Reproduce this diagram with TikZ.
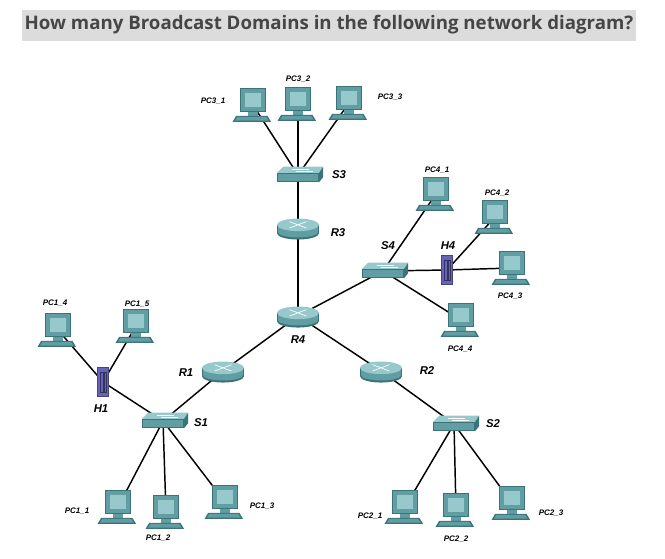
\documentclass[tikz,border=0pt]{standalone}
\usepackage{fontspec}
\setmainfont{Liberation Sans}
\newfontfamily\titlefont{Open Sans}
\begin{document}
\definecolor{teal1}{RGB}{96,158,164}
\definecolor{teal2}{RGB}{150,200,204}
\definecolor{teal3}{RGB}{60,115,120}
\definecolor{hubc}{RGB}{100,100,185}
\definecolor{titlebg}{RGB}{220,220,220}
\definecolor{titlefg}{RGB}{70,70,70}
\begin{tikzpicture}[x=0.75pt,y=-0.75pt,
  pt/.style={inner sep=0pt,minimum size=2pt},
  lbl/.style={font=\fontsize{6}{7}\selectfont\bfseries\itshape},
  dlbl/.style={font=\fontsize{8.5}{10}\selectfont\bfseries\itshape},
  link/.style={line width=1.1pt,black},
  pc/.pic={
    \begin{scope}[scale=1.2]
    \fill[teal3] (-11,-14) rectangle (11,6);
    \fill[teal1] (-10,-13) rectangle (10,5);
    \fill[teal2] (-7,-10) rectangle (7,2);
    \fill[teal1] (-4,6) rectangle (4,9);
    \fill[teal3] (-14,9) -- (12,9) -- (15,14) -- (-17,14) -- cycle;
    \fill[teal1] (-13,10) -- (11,10) -- (13,13) -- (-15,13) -- cycle;
    \end{scope}
  },
  sw/.pic={
    \begin{scope}[scale=1.05]
    \fill[teal3] (-20,-2) rectangle (20,7);
    \fill[teal2] (-20,-2) -- (-14,-8) -- (24,-8) -- (20,-2) -- cycle;
    \fill[teal3] (20,-2) -- (24,-8) -- (24,2) -- (20,7) -- cycle;
    \fill[teal1] (-19,-1) rectangle (19,6);
    \draw[white,line width=0.4pt] (-6,-5) -- (10,-5) (-2,-4) -- (14,-4);
    \end{scope}
  },
  rt/.pic={
    \begin{scope}[scale=1.05]
    \fill[teal3] (-20,-3) rectangle (20,5);
    \fill[teal3] (0,5) ellipse (20 and 6);
    \fill[teal1] (-19,-3) rectangle (19,4);
    \fill[teal1] (0,4) ellipse (19 and 5);
    \fill[teal2] (0,-3) ellipse (20 and 6);
    \draw[white,line width=0.5pt] (-8,-6) -- (8,0) (-8,0) -- (8,-6);
    \end{scope}
  },
  hub/.pic={
    \fill[hubc!70!black] (-6,-15) rectangle (6,15);
    \fill[hubc] (-5,-14) rectangle (5,14);
    \draw[hubc!50!black,line width=0.4pt] (-3,-10) rectangle (0,10) (1,-10) rectangle (3,10);
  }]
\useasboundingbox (0,0) rectangle (665,559);
\fill[titlebg] (22,10) rectangle (636,41);
\node[font=\titlefont\fontsize{14}{16}\selectfont\bfseries,text=titlefg] (title) at (329,25) {How many Broadcast Domains in the following network diagram?};
% nodes
\node[pt] (p31) at (253,105) {}; \node[pt] (p32) at (298,104) {}; \node[pt] (p33) at (349,103) {};
\node[pt] (s3) at (298,175) {}; \node[pt] (r3) at (298,228) {}; \node[pt] (r4) at (298,316) {};
\node[pt] (s4) at (383,271) {}; \node[pt] (h4) at (447,270) {};
\node[pt] (p41) at (436,194) {}; \node[pt] (p42) at (495,217) {}; \node[pt] (p43) at (512,268) {}; \node[pt] (p44) at (461,320) {};
\node[pt] (r1) at (223,371) {}; \node[pt] (r2) at (381,371) {};
\node[pt] (s1) at (163,421) {}; \node[pt] (h1) at (103,382) {};
\node[pt] (p14) at (58,330) {}; \node[pt] (p15) at (136,326) {};
\node[pt] (p11) at (118,507) {}; \node[pt] (p12) at (166,512) {}; \node[pt] (p13) at (225,502) {};
\node[pt] (s2) at (454,424) {};
\node[pt] (p21) at (405,507) {}; \node[pt] (p22) at (456,510) {}; \node[pt] (p23) at (512,503) {};
% links
\draw[link] (p31) -- (s3); \draw[link] (p32) -- (s3); \draw[link] (p33) -- (s3);
\draw[link] (s3) -- (r3); \draw[link] (r3) -- (r4);
\draw[link] (r4) -- (s4); \draw[link] (s4) -- (p41); \draw[link] (s4) -- (h4); \draw[link] (s4) -- (p44);
\draw[link] (h4) -- (p42); \draw[link] (h4) -- (p43);
\draw[link] (r4) -- (r1); \draw[link] (r4) -- (r2);
\draw[link] (r1) -- (s1); \draw[link] (s1) -- (h1); \draw[link] (h1) -- (p14); \draw[link] (h1) -- (p15);
\draw[link] (s1) -- (p11); \draw[link] (s1) -- (p12); \draw[link] (s1) -- (p13);
\draw[link] (r2) -- (s2); \draw[link] (s2) -- (p21); \draw[link] (s2) -- (p22); \draw[link] (s2) -- (p23);
% icons
\foreach \n in {p31,p32,p33,p41,p42,p43,p44,p14,p15,p11,p12,p13,p21,p22,p23} \pic at (\n) {pc};
\foreach \n in {s3,s4,s1,s2} \pic at (\n) {sw};
\foreach \n in {r3,r4,r1,r2} \pic at (\n) {rt};
\foreach \n in {h4,h1} \pic at (\n) {hub};
% labels
\node[lbl] at (213,101) {PC3\_1}; \node[lbl] at (298,79) {PC3\_2}; \node[lbl] at (390,97) {PC3\_3};
\node[dlbl] at (339,175) {S3}; \node[dlbl] at (338,233) {R3}; \node[dlbl] at (298,340) {R4};
\node[dlbl] at (388,246) {S4}; \node[dlbl] at (448,246) {H4};
\node[lbl] at (437,170) {PC4\_1}; \node[lbl] at (497,193) {PC4\_2}; \node[lbl] at (510,296) {PC4\_3}; \node[lbl] at (460,349) {PC4\_4};
\node[dlbl] at (186,373) {R1}; \node[dlbl] at (427,371) {R2};
\node[dlbl] at (201,423) {S1}; \node[dlbl] at (101,409) {H1};
\node[lbl] at (55,303) {PC1\_4}; \node[lbl] at (137,304) {PC1\_5};
\node[lbl] at (77,511) {PC1\_1}; \node[lbl] at (158,538) {PC1\_2}; \node[lbl] at (262,506) {PC1\_3};
\node[dlbl] at (493,424) {S2};
\node[lbl] at (370,516) {PC2\_1}; \node[lbl] at (456,539) {PC2\_2}; \node[lbl] at (551,513) {PC2\_3};
\end{tikzpicture}
\end{document}
